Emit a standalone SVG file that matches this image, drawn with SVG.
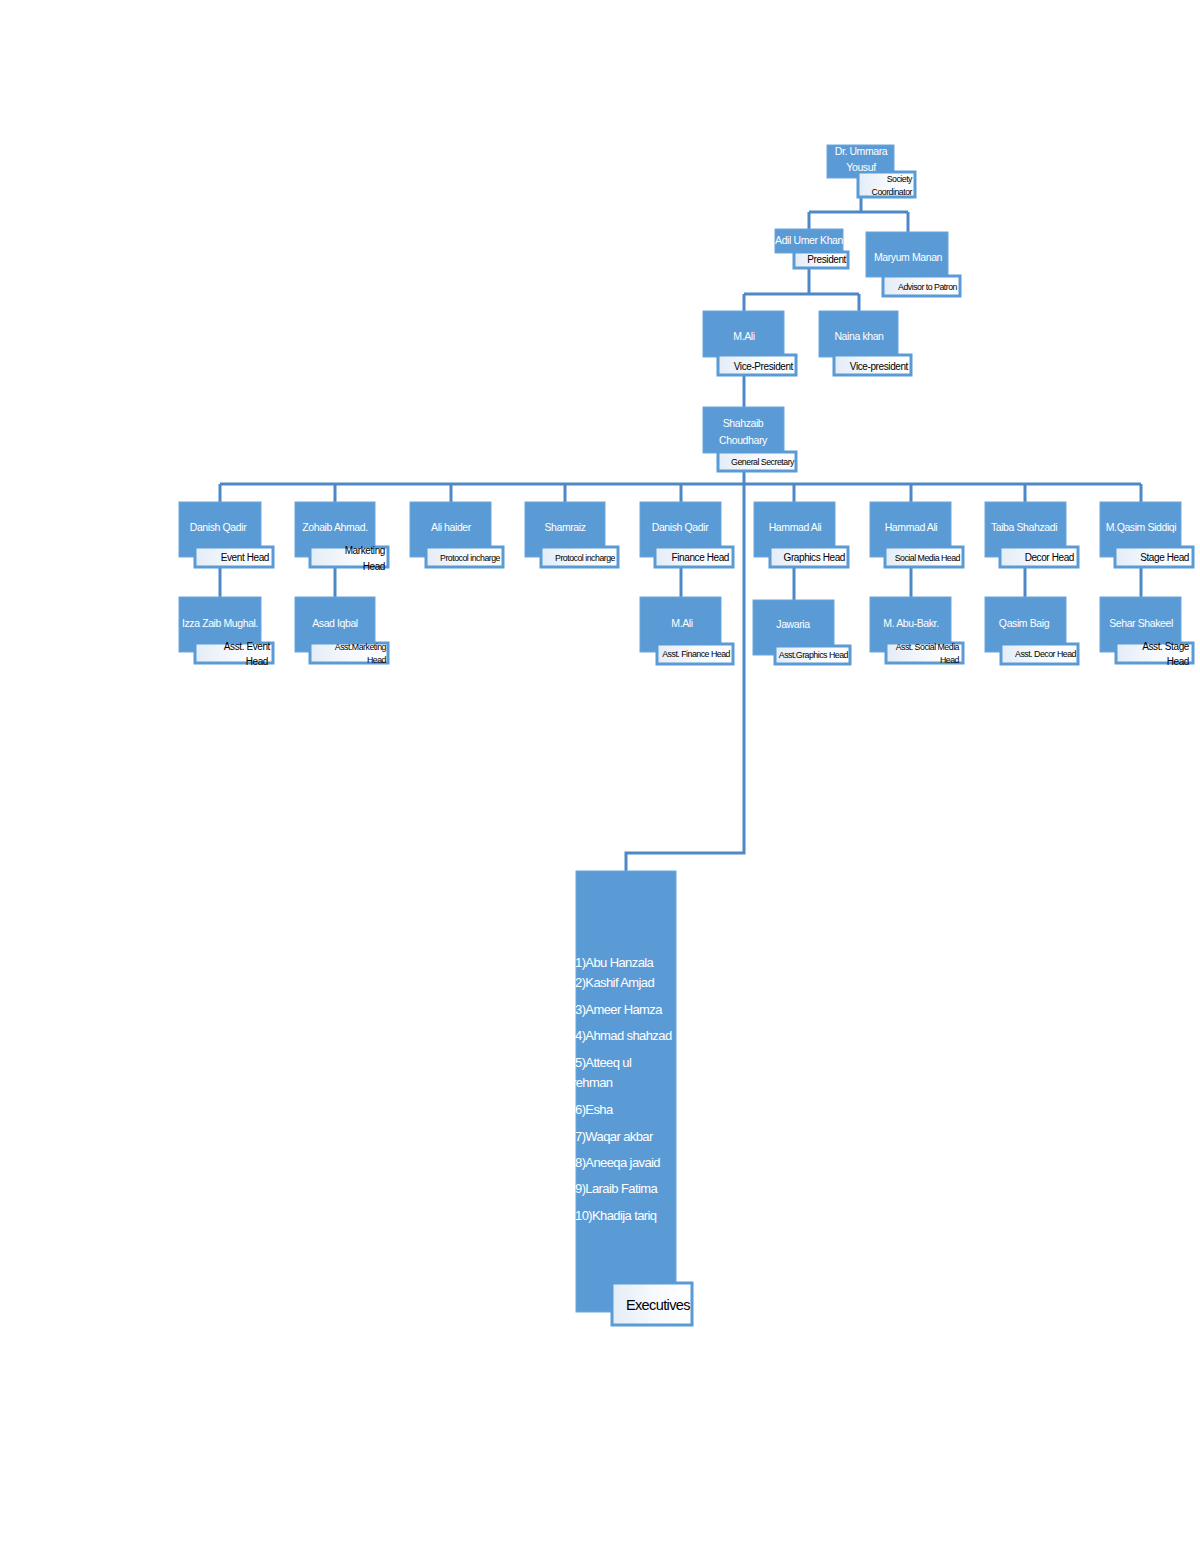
<svg xmlns="http://www.w3.org/2000/svg" width="1200" height="1553" viewBox="0 0 1200 1553">
<defs>
<linearGradient id="lg" x1="0" y1="0" x2="1" y2="0">
<stop offset="0" stop-color="#E3ECF7"/>
<stop offset="0.5" stop-color="#F6F9FD"/>
<stop offset="1" stop-color="#FFFFFF"/>
</linearGradient>
<style>
.box{fill:#5B9BD5;stroke:#6AA6DC;stroke-width:1}
.lab{fill:url(#lg);stroke:#5B9BD5;stroke-width:3}
.nm{font-family:"Liberation Sans",Arial,sans-serif;font-size:10.5px;fill:#FFFFFF;text-anchor:middle;letter-spacing:-0.4px}
.lt{font-family:"Liberation Sans",Arial,sans-serif;font-size:10px;fill:#000000;text-anchor:end;letter-spacing:-0.4px}
.ls{font-family:"Liberation Sans",Arial,sans-serif;font-size:8.8px;fill:#000000;text-anchor:end;letter-spacing:-0.5px}
.ex{font-family:"Liberation Sans",Arial,sans-serif;font-size:13px;fill:#FFFFFF;letter-spacing:-0.6px}
.exl{font-family:"Liberation Sans",Arial,sans-serif;font-size:14.5px;fill:#000000;text-anchor:end;letter-spacing:-0.6px}
.cn{fill:none;stroke:#4F88C6;stroke-width:3}
</style>
</defs>
<rect width="1200" height="1553" fill="#FFFFFF"/>

<g id="connectors">
<path class="cn" d="M861 198 V212 M809 212 H908 M809 212 V229 M908 212 V232"/>
<path class="cn" d="M809 268 V294 M744 294 H859 M744 294 V311 M859 294 V311"/>
<path class="cn" d="M744 376 V407"/>
<path class="cn" d="M744 471 V853 H626 V871"/>
<path class="cn" d="M220 484 H1141 M220 484 V502 M335 484 V502 M451 484 V502 M565 484 V502 M681 484 V502 M794 484 V502 M911 484 V502 M1025 484 V502 M1141 484 V502"/>
<path class="cn" d="M220 567 V597 M335 567 V597 M681 567 V597 M794 567 V600 M911 567 V597 M1025 567 V597 M1141 567 V597"/>
</g>

<g id="n-ummara">
<rect class="box" x="827" y="145" width="67" height="33"/>
<rect class="lab" x="858" y="172" width="57" height="25"/>
<text class="nm" x="861" y="155">Dr. Ummara</text>
<text class="nm" x="861" y="171">Yousuf</text>
<text class="ls" x="912" y="182">Society</text>
<text class="ls" x="912" y="195">Coordinator</text>
</g>

<g id="n-adil">
<rect class="box" x="775" y="229" width="68" height="24"/>
<rect class="lab" x="794" y="252" width="54" height="16"/>
<text class="nm" x="809" y="244">Adil Umer Khan</text>
<text class="lt" x="846" y="263">President</text>
</g>

<g id="n-maryum">
<rect class="box" x="866" y="232" width="82" height="45"/>
<rect class="lab" x="883" y="276" width="77" height="20"/>
<text class="nm" x="908" y="261">Maryum Manan</text>
<text class="ls" x="957" y="290">Advisor to Patron</text>
</g>

<g id="n-mali-vp">
<rect class="box" x="703" y="311" width="81" height="46"/>
<rect class="lab" x="718" y="355" width="78" height="20"/>
<text class="nm" x="744" y="340">M.Ali</text>
<text class="lt" x="793" y="370">Vice-President</text>
</g>

<g id="n-naina">
<rect class="box" x="819" y="311" width="79" height="46"/>
<rect class="lab" x="834" y="355" width="77" height="20"/>
<text class="nm" x="859" y="340">Naina khan</text>
<text class="lt" x="908" y="370">Vice-president</text>
</g>

<g id="n-shahzaib">
<rect class="box" x="703" y="407" width="81" height="46"/>
<rect class="lab" x="718" y="452" width="78" height="19"/>
<text class="nm" x="743" y="427">Shahzaib</text>
<text class="nm" x="743" y="444">Choudhary</text>
<text class="ls" x="794" y="465">General Secretary</text>
</g>

<g id="n-danish-event">
<rect class="box" x="179" y="502" width="82" height="55"/>
<rect class="lab" x="195" y="547" width="78" height="20"/>
<text class="nm" x="218" y="531">Danish Qadir</text>
<text class="lt" x="269" y="561">Event Head</text>
</g>

<g id="n-zohaib">
<rect class="box" x="295" y="502" width="80" height="55"/>
<rect class="lab" x="310" y="547" width="78" height="20"/>
<text class="nm" x="335" y="531">Zohaib Ahmad.</text>
<text class="lt" x="385" y="554">Marketing</text>
<text class="lt" x="385" y="570">Head</text>
</g>

<g id="n-alihaider">
<rect class="box" x="410" y="502" width="81" height="55"/>
<rect class="lab" x="426" y="547" width="77" height="20"/>
<text class="nm" x="451" y="531">Ali haider</text>
<text class="ls" x="500" y="561">Protocol incharge</text>
</g>

<g id="n-shamraiz">
<rect class="box" x="525" y="502" width="80" height="55"/>
<rect class="lab" x="541" y="547" width="77" height="20"/>
<text class="nm" x="565" y="531">Shamraiz</text>
<text class="ls" x="615" y="561">Protocol incharge</text>
</g>

<g id="n-danish-finance">
<rect class="box" x="640" y="502" width="81" height="55"/>
<rect class="lab" x="655" y="547" width="78" height="20"/>
<text class="nm" x="680" y="531">Danish Qadir</text>
<text class="lt" x="729" y="561">Finance Head</text>
</g>

<g id="n-hammad-graphics">
<rect class="box" x="754" y="502" width="81" height="55"/>
<rect class="lab" x="770" y="547" width="78" height="20"/>
<text class="nm" x="795" y="531">Hammad Ali</text>
<text class="lt" x="845" y="561">Graphics Head</text>
</g>

<g id="n-hammad-social">
<rect class="box" x="870" y="502" width="81" height="55"/>
<rect class="lab" x="885" y="547" width="78" height="20"/>
<text class="nm" x="911" y="531">Hammad Ali</text>
<text class="ls" x="960" y="561">Social Media Head</text>
</g>

<g id="n-taiba">
<rect class="box" x="985" y="502" width="81" height="55"/>
<rect class="lab" x="1000" y="547" width="78" height="20"/>
<text class="nm" x="1024" y="531">Taiba Shahzadi</text>
<text class="lt" x="1074" y="561">Decor Head</text>
</g>

<g id="n-qasim-siddiqi">
<rect class="box" x="1100" y="502" width="81" height="55"/>
<rect class="lab" x="1115" y="547" width="78" height="20"/>
<text class="nm" x="1141" y="531">M.Qasim Siddiqi</text>
<text class="lt" x="1189" y="561">Stage Head</text>
</g>

<g id="n-izza">
<rect class="box" x="179" y="597" width="82" height="55"/>
<rect class="lab" x="195" y="643" width="78" height="20"/>
<text class="nm" x="220" y="627">Izza Zaib Mughal.</text>
<text class="lt" x="270" y="650">Asst. Event</text>
<text class="lt" x="268" y="665">Head</text>
</g>

<g id="n-asad">
<rect class="box" x="295" y="597" width="80" height="55"/>
<rect class="lab" x="310" y="643" width="78" height="20"/>
<text class="nm" x="335" y="627">Asad Iqbal</text>
<text class="ls" x="386" y="650">Asst.Marketing</text>
<text class="ls" x="386" y="663">Head</text>
</g>

<g id="n-mali-finance">
<rect class="box" x="640" y="597" width="81" height="55"/>
<rect class="lab" x="657" y="644" width="76" height="20"/>
<text class="nm" x="682" y="627">M.Ali</text>
<text class="ls" x="730" y="657">Asst. Finance Head</text>
</g>

<g id="n-jawaria">
<rect class="box" x="753" y="600" width="81" height="55"/>
<rect class="lab" x="775" y="646" width="75" height="18"/>
<text class="nm" x="793" y="628">Jawaria</text>
<text class="ls" x="848" y="658">Asst.Graphics Head</text>
</g>

<g id="n-abubakr">
<rect class="box" x="870" y="597" width="81" height="55"/>
<rect class="lab" x="886" y="643" width="77" height="20"/>
<text class="nm" x="911" y="627">M. Abu-Bakr.</text>
<text class="ls" x="959" y="650">Asst. Social Media</text>
<text class="ls" x="959" y="663">Head</text>
</g>

<g id="n-qasim-baig">
<rect class="box" x="985" y="597" width="81" height="55"/>
<rect class="lab" x="1001" y="644" width="77" height="20"/>
<text class="nm" x="1024" y="627">Qasim Baig</text>
<text class="ls" x="1076" y="657">Asst. Decor Head</text>
</g>

<g id="n-sehar">
<rect class="box" x="1100" y="597" width="81" height="55"/>
<rect class="lab" x="1116" y="643" width="77" height="20"/>
<text class="nm" x="1141" y="627">Sehar Shakeel</text>
<text class="lt" x="1189" y="650">Asst. Stage</text>
<text class="lt" x="1189" y="665">Head</text>
</g>

<g id="n-executives">
<rect class="box" x="576" y="871" width="100" height="441"/>
<rect class="lab" x="612" y="1283" width="80" height="42"/>
<text class="ex" x="575" y="967">1)Abu Hanzala</text>
<text class="ex" x="575" y="987">2)Kashif Amjad</text>
<text class="ex" x="575" y="1014">3)Ameer Hamza</text>
<text class="ex" x="575" y="1040">4)Ahmad shahzad</text>
<text class="ex" x="575" y="1067">5)Atteeq ul</text>
<text class="ex" x="572" y="1087">rehman</text>
<text class="ex" x="575" y="1114">6)Esha</text>
<text class="ex" x="575" y="1141">7)Waqar akbar</text>
<text class="ex" x="575" y="1167">8)Aneeqa javaid</text>
<text class="ex" x="575" y="1193">9)Laraib Fatima</text>
<text class="ex" x="575" y="1220">10)Khadija tariq</text>
<text class="exl" x="690" y="1310">Executives</text>
</g>
</svg>
